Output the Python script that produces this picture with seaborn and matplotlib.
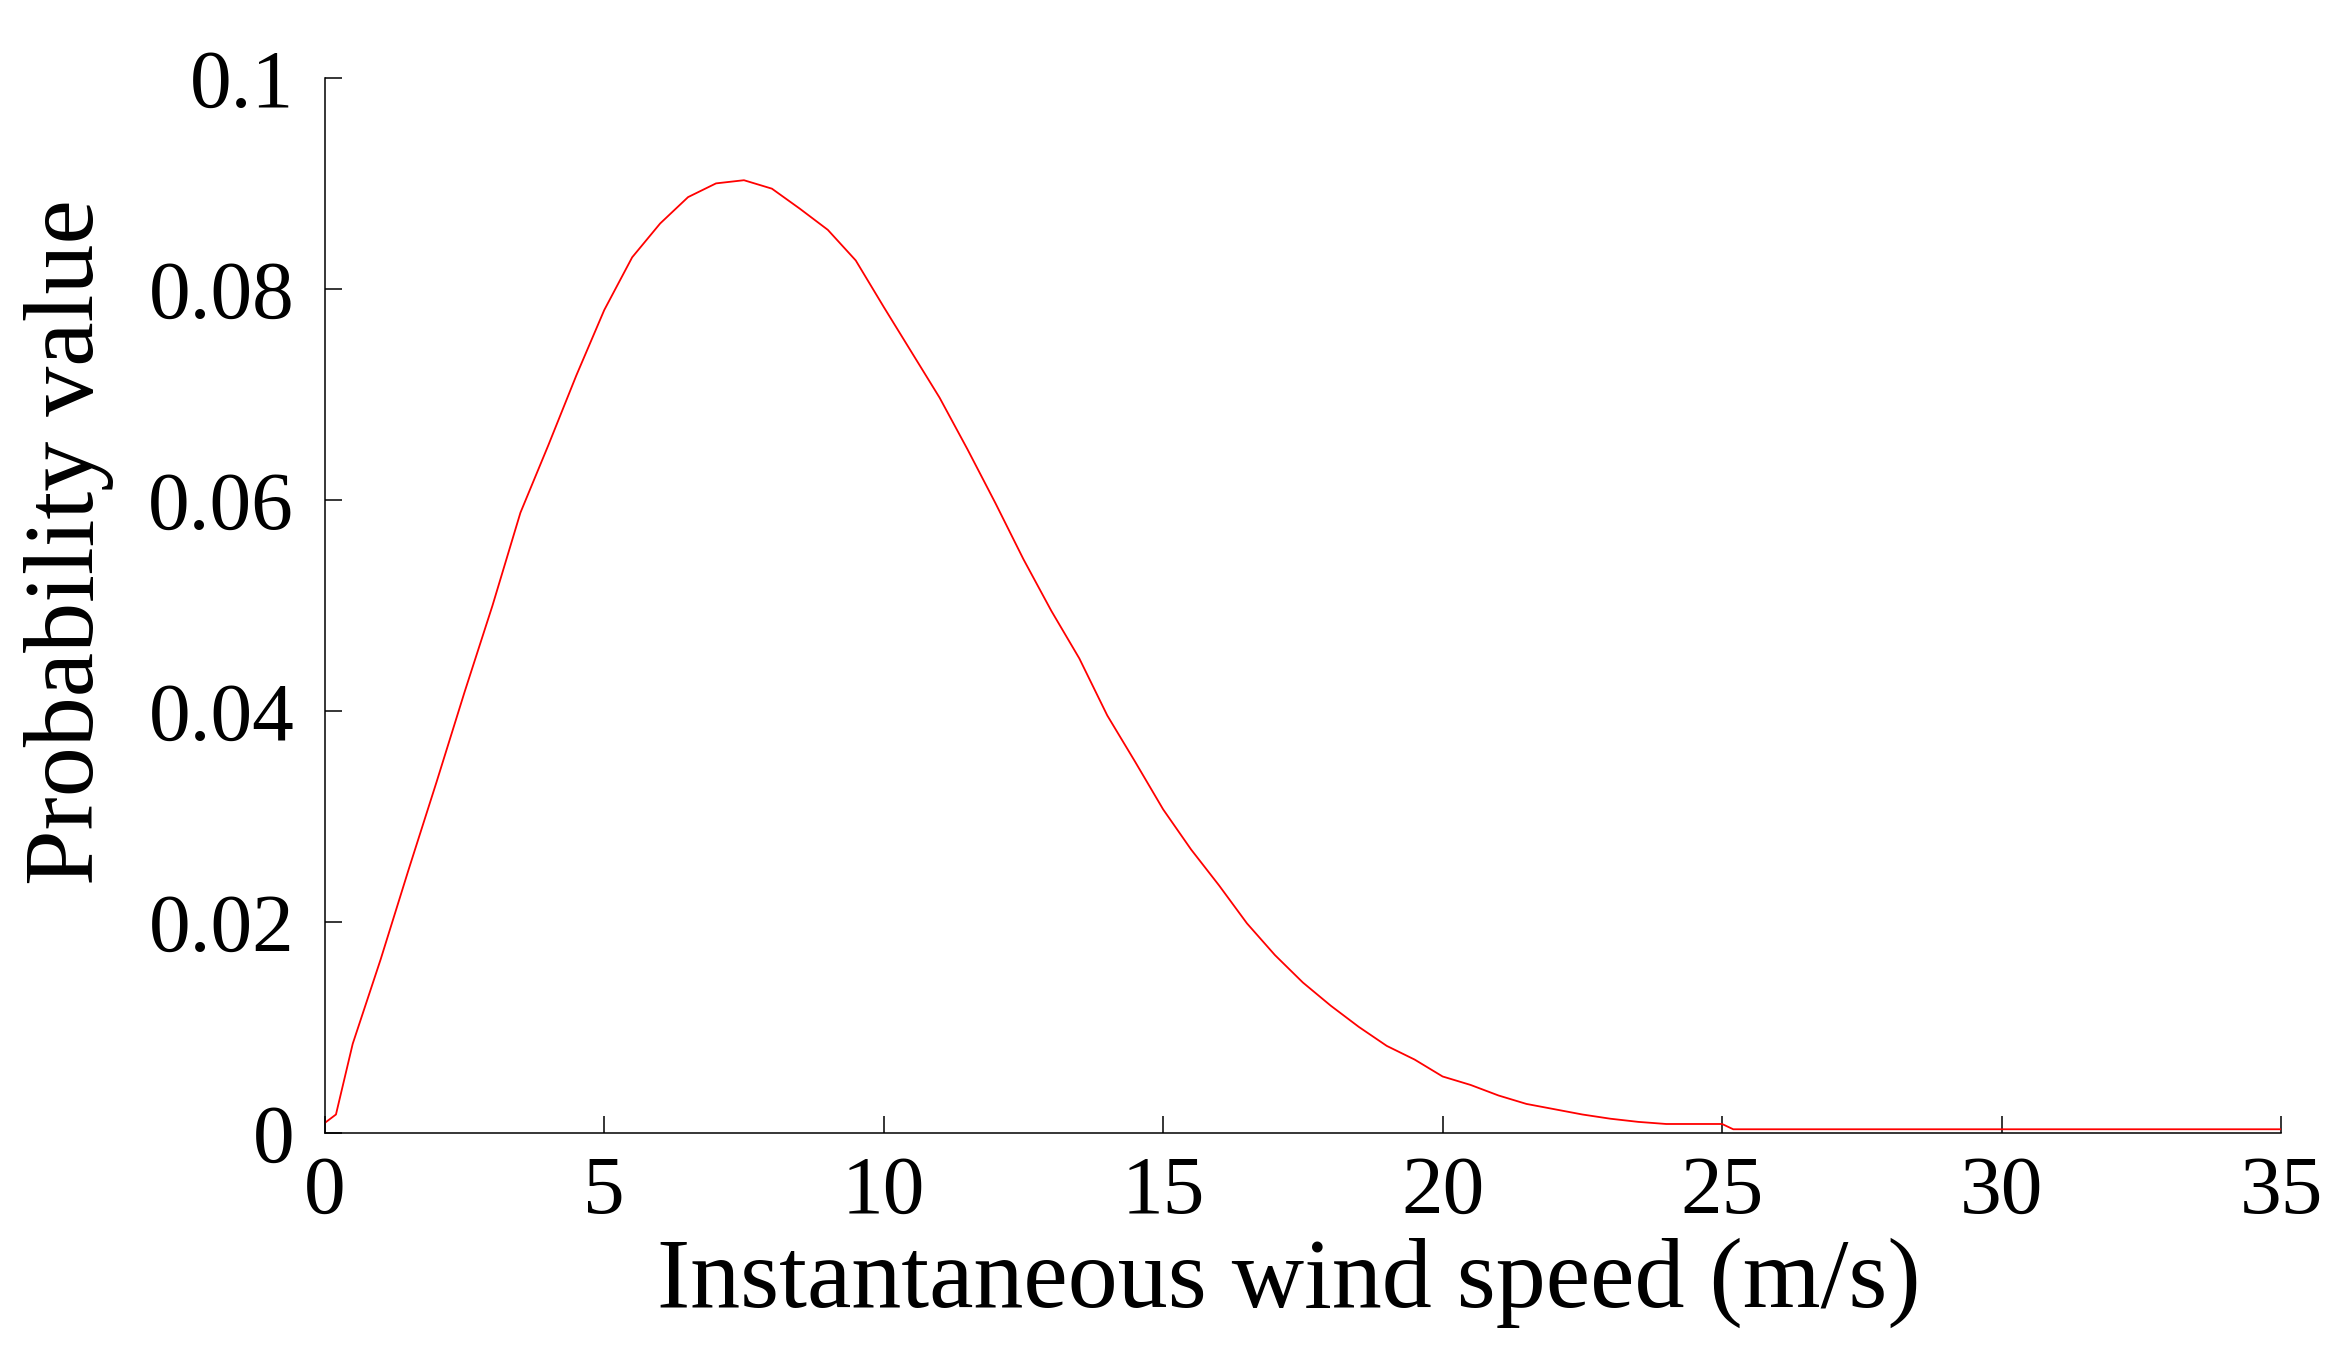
import numpy as np
import pandas as pd
import matplotlib
matplotlib.use("Agg")
import matplotlib.pyplot as plt
import seaborn as sns

# wind speed (m/s) and probability values
wind_speed = [0, 0.2, 0.5, 1.0, 1.5, 2.0, 2.5, 3.0, 3.5, 4.0, 4.5, 5.0, 5.5, 6.0,
              6.5, 7.0, 7.5, 8.0, 8.5, 9.0, 9.5, 10.0, 10.5, 11.0, 11.5, 12.0,
              12.5, 13.0, 13.5, 14.0, 14.5, 15.0, 15.5, 16.0, 16.5, 17.0, 17.5,
              18.0, 18.5, 19.0, 19.5, 20.0, 20.5, 21.0, 21.5, 22.0, 22.5, 23.0,
              23.5, 24.0, 25.0, 25.2, 30.0, 35.0]
probability = [0.0010, 0.0018, 0.0085, 0.0165, 0.0250, 0.0333, 0.0418, 0.0500,
               0.0588, 0.0652, 0.0718, 0.0780, 0.0830, 0.0862, 0.0887, 0.0900,
               0.0903, 0.0895, 0.0876, 0.0856, 0.0827, 0.0783, 0.0740, 0.0697,
               0.0648, 0.0597, 0.0544, 0.0495, 0.0450, 0.0396, 0.0352, 0.0307,
               0.0269, 0.0235, 0.0199, 0.0169, 0.0143, 0.0121, 0.0101, 0.0083,
               0.0070, 0.0054, 0.0046, 0.0036, 0.0028, 0.0023, 0.0018, 0.0014,
               0.0011, 0.0009, 0.0009, 0.0004, 0.0004, 0.0004]

x_ticks = [0, 5, 10, 15, 20, 25, 30, 35]
y_ticks = [0, 0.02, 0.04, 0.06, 0.08, 0.1]
y_tick_labels = ["0", "0.02", "0.04", "0.06", "0.08", "0.1"]

df = pd.DataFrame({"speed": wind_speed, "prob": probability})

sns.set_style("ticks")
plt.rcParams["font.family"] = ["Liberation Serif", "DejaVu Serif"]
plt.rcParams["text.color"] = "black"
plt.rcParams["axes.labelcolor"] = "black"

fig = plt.figure(figsize=(23.45, 13.51), dpi=100)
ax = fig.add_axes([0.1385, 0.161, 0.8342, 0.7814])

sns.lineplot(data=df, x="speed", y="prob", color="#ff0000", linewidth=1.3, ax=ax)

ax.set_xlim(0, 35)
ax.set_ylim(0, 0.1)
ax.set_xticks(x_ticks)
ax.set_xticklabels([str(t) for t in x_ticks])
ax.set_yticks(y_ticks)
ax.set_yticklabels(y_tick_labels)

for side in ["top", "right"]:
    ax.spines[side].set_visible(False)
for side in ["left", "bottom"]:
    ax.spines[side].set_color("black")
    ax.spines[side].set_linewidth(1.1)

ax.tick_params(axis="both", direction="in", length=12, width=1.1,
               colors="black", labelsize=60)
ax.tick_params(axis="x", pad=16)
ax.tick_params(axis="y", pad=22)

ax.set_xlabel("Instantaneous wind speed (m/s)", fontsize=72, color="black")
ax.set_ylabel("Probability value", fontsize=72, color="black")
ax.xaxis.set_label_coords(0.493, -0.099)
ax.yaxis.set_label_coords(-0.108, 0.56)

fig.savefig("out.png", dpi=100, facecolor="white")
